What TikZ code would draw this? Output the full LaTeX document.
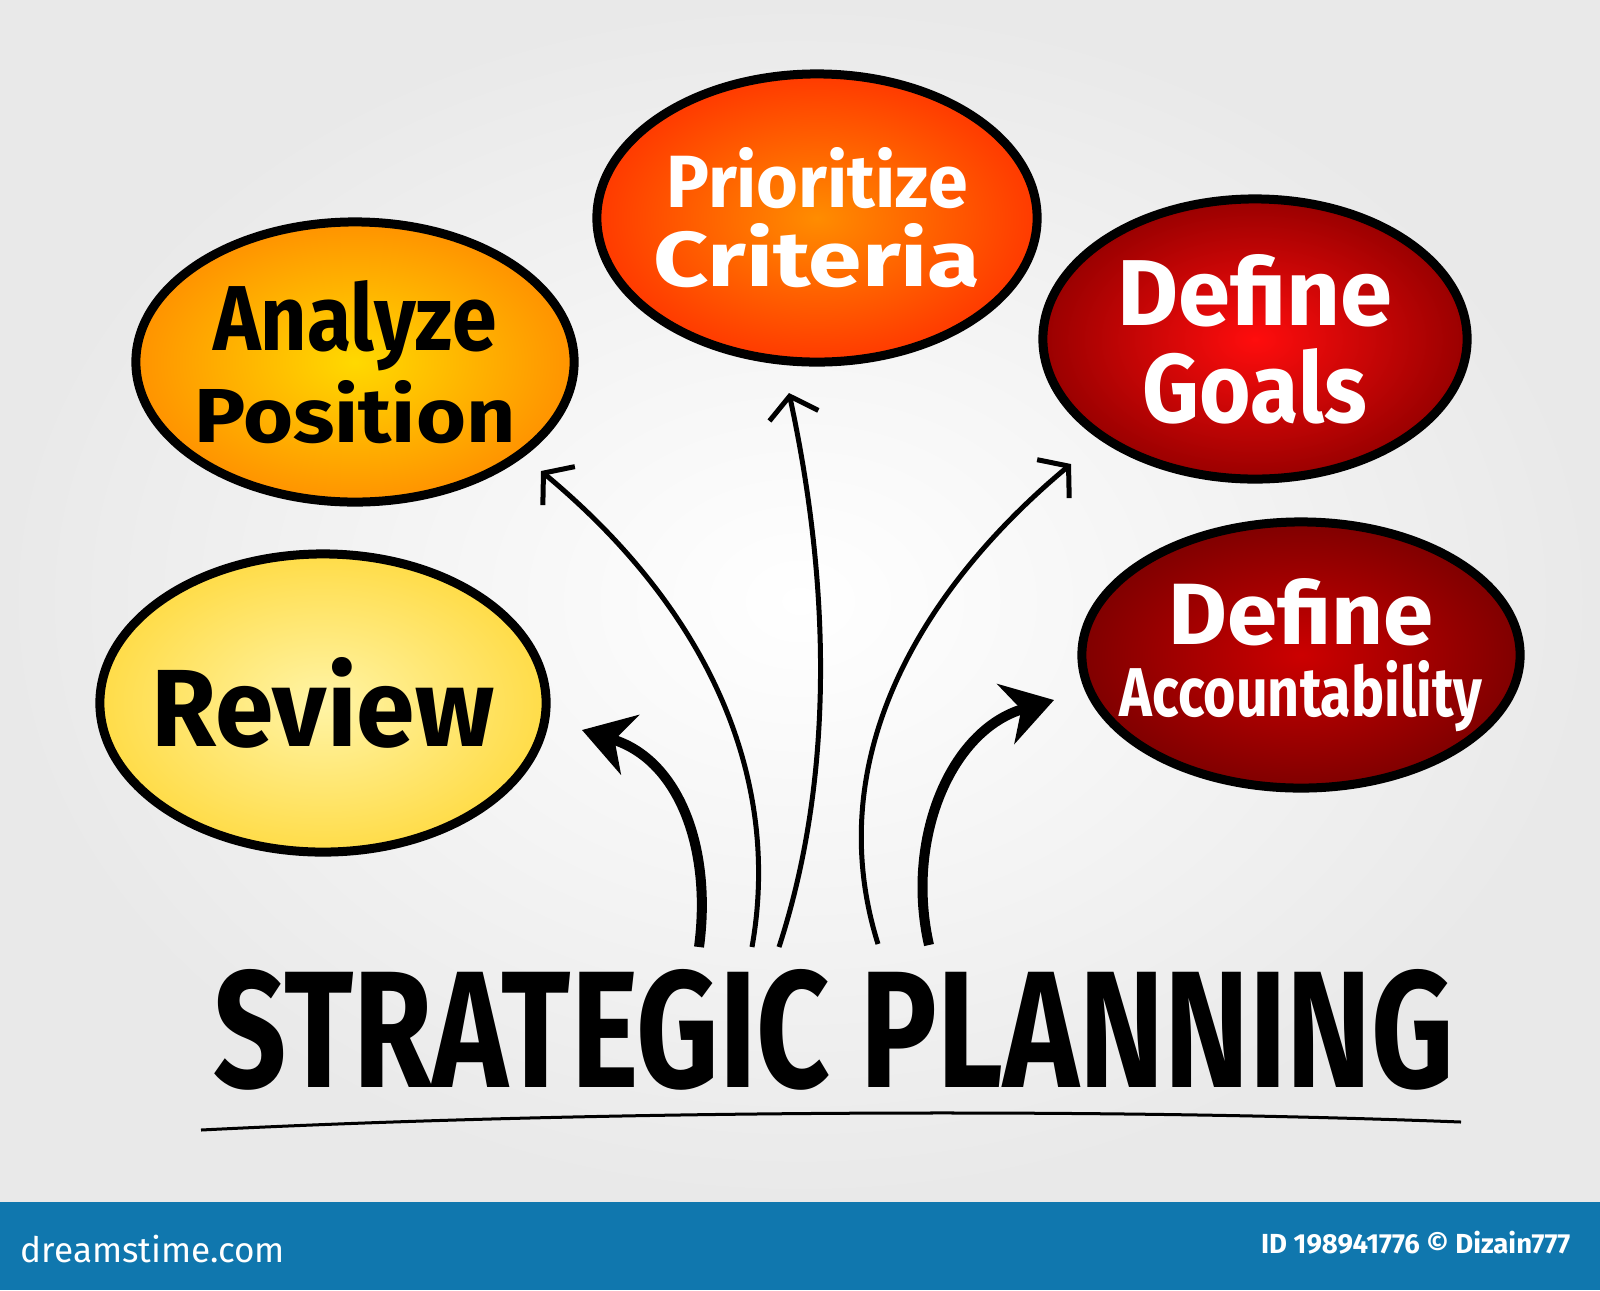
\documentclass[tikz,border=0pt]{standalone}
\usepackage{fontspec}
\setmainfont{Fira Sans}
\usepackage{graphicx}
\usetikzlibrary{shapes.geometric,arrows.meta}

\definecolor{barblue}{HTML}{1077AE}
\definecolor{bggray}{HTML}{E9E9E9}
\definecolor{revin}{HTML}{FFF4A6}
\definecolor{revout}{HTML}{FFDC48}

% one line of text squeezed to a given width and height
\newcommand{\fitline}[3]{\makebox[0pt]{\resizebox{#1}{#2}{#3}}}

\tikzset{
  bubble/.style={ellipse, draw=black, line width=0.09cm, inner sep=0pt, align=center},
  thinarrow/.style={line width=0.05cm, -{Straight Barb[length=0.2cm,width=0.5cm,line width=0.05cm]}},
  thickarrow/.style={line width=0.1cm, -{Stealth[length=0.5cm,width=0.62cm,inset=0.16cm]}}
}

\begin{document}
\begin{tikzpicture}[x=0.01cm,y=-0.01cm]
\useasboundingbox (0,0) rectangle (1600,1290);

\shade[inner color=white, outer color=bggray] (0,0) rectangle (1600,1202);
\fill[barblue] (0,1202) rectangle (1600,1290);

\node[bubble, minimum width=4.38cm, minimum height=2.80cm, inner color=yellow!70!orange, outer color=orange!85!yellow,
      font=\bfseries\fontsize{10}{26}\selectfont] (analyze) at (355,362)
      {\fitline{2.83cm}{0.70cm}{Analyze}\\\fitline{3.21cm}{0.62cm}{Position}};
\node[bubble, minimum width=4.40cm, minimum height=2.88cm, inner color=orange!90!yellow, outer color=red!55!orange,
      text=white, font=\bfseries\fontsize{10}{22.5}\selectfont] (prior) at (817,218)
      {\fitline{3.01cm}{0.60cm}{Prioritize}\\\fitline{3.27cm}{0.63cm}{Criteria}};
\node[bubble, minimum width=4.24cm, minimum height=2.80cm, inner color=red!95!white, outer color=red!60!black,
      text=white, font=\bfseries\fontsize{10}{27.5}\selectfont] (goals) at (1255,339)
      {\fitline{2.75cm}{0.71cm}{Define}\\\fitline{2.24cm}{0.74cm}{Goals}};
\node[bubble, minimum width=4.46cm, minimum height=2.98cm, inner color=revin, outer color=revout,
      font=\bfseries\fontsize{10}{26}\selectfont] (review) at (323,703)
      {\fitline{3.42cm}{0.89cm}{Review}};
\node[bubble, minimum width=4.38cm, minimum height=2.66cm, inner color=red!80!black, outer color=red!50!black,
      text=white, font=\bfseries\fontsize{10}{20.5}\selectfont] (account) at (1301,655)
      {\fitline{2.65cm}{0.66cm}{Define}\\\fitline{3.62cm}{0.56cm}{Accountability}};

\node[font=\bfseries, anchor=base] (title) at (834,1087) {\resizebox{12.4cm}{1.18cm}{STRATEGIC PLANNING}};

\coordinate (b1) at (699,947);
\coordinate (b2) at (752,947);
\coordinate (b3) at (779,947);
\coordinate (b4) at (878,944);
\coordinate (b5) at (929,945);
\coordinate (t1) at (582,730);
\coordinate (t2) at (541,471);
\coordinate (t3) at (789,393);
\coordinate (t4) at (1071,464);
\coordinate (t5) at (1054,700);

\draw[thickarrow] (b1) .. controls (712,850) and (680,760) .. (t1);
\draw[thinarrow] (b2) .. controls (780,790) and (720,620) .. (t2);
\draw[thinarrow] (b3) .. controls (840,760) and (825,560) .. (t3);
\draw[thinarrow] (b4) .. controls (820,760) and (920,590) .. (t4);
\draw[thickarrow] (b5) .. controls (905,840) and (950,730) .. (t5);

\coordinate (u1) at (201,1130);
\coordinate (u2) at (1461,1122);
\draw[line width=0.03cm] (u1) .. controls (600,1110) and (1100,1108) .. (u2);

\node[text=white, anchor=base west, inner sep=0pt] (site) at (20,1262) {\resizebox{2.64cm}{!}{dreamstime.com}};
\node[text=white, anchor=base east, inner sep=0pt, font=\bfseries] (credit) at (1571,1253) {\resizebox{3.09cm}{!}{ID 198941776 © Dizain777}};

\end{tikzpicture}
\end{document}
